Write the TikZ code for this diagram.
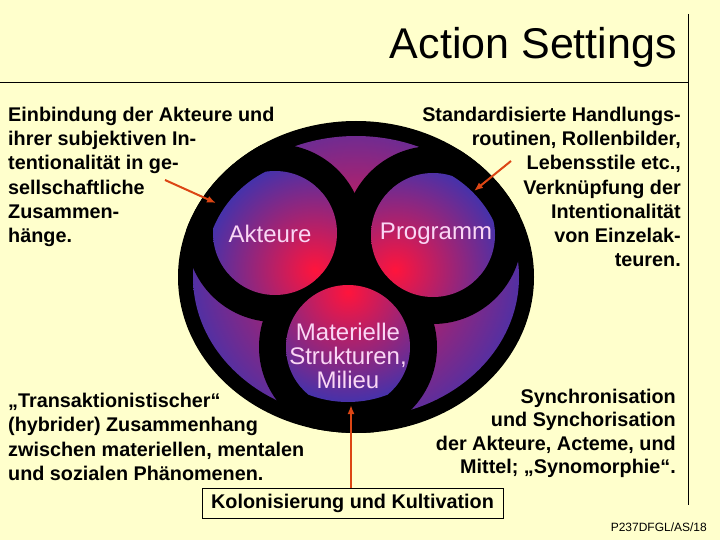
\documentclass[tikz,border=0pt]{standalone}
\usepackage{fontspec}
\setmainfont{Liberation Sans}
\begin{document}
\begin{tikzpicture}[x=1pt,y=-1pt,
  txt/.style={font=\bfseries\fontsize{19.8}{24.2}\selectfont, inner sep=0pt, align=left},
  txtr/.style={txt, align=right},
  lab/.style={font=\fontsize{24}{24}\selectfont, text={rgb,255:red,250;green,215;blue,245}, inner sep=0pt, align=center},
  arr/.style={-{Latex[length=9pt,width=7pt]}, draw={rgb,255:red,220;green,70;blue,20}, line width=2pt}]
\usetikzlibrary{arrows.meta}
\definecolor{bg}{RGB}{255,255,204}
\definecolor{pur}{RGB}{70,50,170}
\definecolor{rd}{RGB}{255,20,60}
\fill[bg] (0,0) rectangle (720,540);
\useasboundingbox (0,0) rectangle (720,540);
\draw[line width=0.8pt] (0,82) -- (688,82);
\draw[line width=0.8pt] (688,14) -- (688,505);
\node[anchor=east, font=\fontsize{43}{46}\selectfont, inner sep=0pt] (title) at (677,47) {Action Settings};
% big ellipse
\fill[black] (356,277) ellipse [x radius=178, y radius=156];
\begin{scope}
\clip (356,277) ellipse [x radius=163, y radius=141];
\shade[inner color=rd, outer color=pur] (356,270) circle [radius=175];
\end{scope}
\begin{scope}
\clip (356,277) ellipse [x radius=178, y radius=156];
\foreach \c in {(275,233),(433,235),(348,347)} \fill[black] \c circle [radius=89];
\end{scope}
\begin{scope}\clip (275,233) circle [radius=62];
\shade[inner color=rd, outer color=pur] (315,270) circle [radius=110];\end{scope}
\begin{scope}\clip (433,235) circle [radius=62];
\shade[inner color=rd, outer color=pur] (395,270) circle [radius=110];\end{scope}
\begin{scope}\clip (348,347) circle [radius=62];
\shade[inner color=rd, outer color=pur] (348,292) circle [radius=110];\end{scope}
\node[lab] (akt) at (270,234) {Akteure};
\node[lab] (prg) at (436,234) {Programm};
\node[lab] (mat) at (348,356) {Materielle\\Strukturen,\\Milieu};
\node[txt, anchor=north west] (tl) at (8,107) {Einbindung der Akteure und\\ihrer subjektiven In-\\tentionalität in ge-\\sellschaftliche\\Zusammen-\\hänge.};
\node[txtr, anchor=north east] (tr) at (681,107) {Standardisierte Handlungs-\\routinen, Rollenbilder,\\Lebensstile etc.,\\Verknüpfung der\\Intentionalität\\von Einzelak-\\teuren.};
\node[txt, anchor=north west, font=\bfseries\fontsize{19.8}{24.3}\selectfont] (bl) at (8,393) {„Transaktionistischer“\\(hybrider) Zusammenhang\\zwischen materiellen, mentalen\\und sozialen Phänomenen.};
\node[txtr, anchor=north east, font=\bfseries\fontsize{19.8}{23.3}\selectfont] (br) at (676,389) {Synchronisation\\und Synchorisation\\der Akteure, Acteme, und\\Mittel; „Synomorphie“.};
\node[draw, line width=0.8pt, fill=bg, font=\bfseries\fontsize{19.8}{20}\selectfont, minimum width=301pt, minimum height=30pt, inner sep=2pt] (box) at (352.5,503) {Kolonisierung und Kultivation};
\node[anchor=east, font=\fontsize{12}{14}\selectfont, inner sep=0pt] (ref) at (707,527) {P237DFGL/AS/18};
\coordinate (a1) at (165,180);
\coordinate (a1e) at (216,203);
\coordinate (a2) at (511,161);
\coordinate (a2e) at (474,191);
\draw[arr] (a1) -- (a1e);
\draw[arr] (a2) -- (a2e);
\draw[arr] (box.north -| 351,0) -- (351,405);
\end{tikzpicture}
\end{document}
